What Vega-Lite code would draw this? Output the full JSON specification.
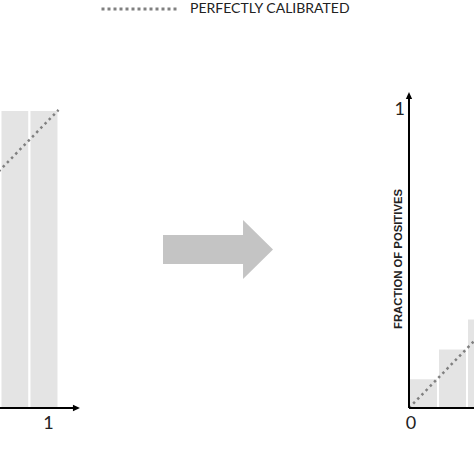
{
  "$schema": "https://vega.github.io/schema/vega-lite/v6.json",
  "width": 474,
  "height": 474,
  "padding": 0,
  "autosize": {"type": "none"},
  "background": "white",
  "config": {"view": {"stroke": null}},
  "data": {"values": [{}]},
  "datasets": {
    "leftBins": [
      {"bin_start": 0.8, "bin_end": 0.9, "fraction": 1.0},
      {"bin_start": 0.9, "bin_end": 1.0, "fraction": 1.0}
    ],
    "rightBins": [
      {"bin_start": 0.0, "bin_end": 0.1, "fraction": 0.1},
      {"bin_start": 0.1, "bin_end": 0.2, "fraction": 0.2},
      {"bin_start": 0.2, "bin_end": 0.3, "fraction": 0.3}
    ],
    "diagonal": [
      {"predicted": 0, "fraction": 0},
      {"predicted": 1, "fraction": 1}
    ]
  },
  "resolve": {"scale": {"x": "independent"}},
  "layer": [
    {
      "layer": [
        {
          "data": {"name": "leftBins"},
          "mark": {"type": "rect", "fill": "#e4e4e4", "stroke": "white", "strokeWidth": 2, "clip": true},
          "encoding": {
            "x": {"field": "bin_start", "type": "quantitative", "scale": {"domain": [0.79828, 2.43276], "nice": false, "zero": false}, "axis": null},
            "x2": {"field": "bin_end"},
            "y": {"field": "fraction", "type": "quantitative", "scale": {"domain": [-0.2215, 1.369], "nice": false, "zero": false}, "axis": null},
            "y2": {"datum": 0}
          }
        },
        {
          "data": {"name": "diagonal"},
          "mark": {"type": "line", "strokeWidth": 2.5, "strokeDash": [2.5, 3.5], "clip": true},
          "encoding": {
            "x": {"field": "predicted", "type": "quantitative", "scale": {"domain": [0.79828, 2.43276], "nice": false, "zero": false}, "axis": null},
            "y": {"field": "fraction", "type": "quantitative", "scale": {"domain": [-0.2215, 1.369], "nice": false, "zero": false}, "axis": null},
            "color": {
              "datum": "PERFECTLY CALIBRATED",
              "scale": {"range": ["#808080"]},
              "legend": {
                "orient": "none", "legendX": 100, "legendY": -30, "title": null,
                "symbolType": "stroke", "symbolSize": 5625, "symbolStrokeWidth": 3, "symbolDash": [3, 3],
                "labelFont": "Lato", "labelFontSize": 14, "labelColor": "#222222", "labelOffset": 12, "labelLimit": 400, "padding": 0
              }
            }
          }
        },
        {
          "mark": {"type": "rule", "color": "black", "strokeWidth": 2},
          "encoding": {
            "x": {"datum": 0, "type": "quantitative", "scale": {"domain": [0.79828, 2.43276], "nice": false, "zero": false}, "axis": null},
            "x2": {"datum": 1.062},
            "y": {"datum": 0, "type": "quantitative", "scale": {"domain": [-0.2215, 1.369], "nice": false, "zero": false}, "axis": null}
          }
        },
        {
          "mark": {"type": "point", "shape": "M0,0L-1,-0.45L-1,0.45Z", "filled": true, "color": "black", "opacity": 1, "size": 196, "strokeWidth": 0},
          "encoding": {
            "x": {"datum": 1.074, "type": "quantitative", "scale": {"domain": [0.79828, 2.43276], "nice": false, "zero": false}, "axis": null},
            "y": {"datum": 0, "type": "quantitative", "scale": {"domain": [-0.2215, 1.369], "nice": false, "zero": false}, "axis": null}
          }
        },
        {
          "mark": {"type": "text", "text": "1", "font": "Lato", "fontSize": 18, "color": "#222222", "dx": -10, "dy": 16, "baseline": "middle", "align": "center"},
          "encoding": {
            "x": {"datum": 1, "type": "quantitative", "scale": {"domain": [0.79828, 2.43276], "nice": false, "zero": false}, "axis": null},
            "y": {"datum": 0, "type": "quantitative", "scale": {"domain": [-0.2215, 1.369], "nice": false, "zero": false}, "axis": null}
          }
        },
        {
          "mark": {"type": "point", "shape": "M-1,-0.264L0.455,-0.264L0.455,-0.536L1,0L0.455,0.536L0.455,0.264L-1,0.264Z", "filled": true, "color": "#c4c4c4", "opacity": 1, "size": 12100, "strokeWidth": 0},
          "encoding": {
            "x": {"datum": 1.55, "type": "quantitative", "scale": {"domain": [0.79828, 2.43276], "nice": false, "zero": false}, "axis": null},
            "y": {"datum": 0.532, "type": "quantitative", "scale": {"domain": [-0.2215, 1.369], "nice": false, "zero": false}, "axis": null}
          }
        }
      ]
    },
    {
      "layer": [
        {
          "data": {"name": "rightBins"},
          "mark": {"type": "rect", "fill": "#e4e4e4", "stroke": "white", "strokeWidth": 2, "clip": true},
          "encoding": {
            "x": {"field": "bin_start", "type": "quantitative", "scale": {"domain": [-1.41034, 0.22414], "nice": false, "zero": false}, "axis": null},
            "x2": {"field": "bin_end"},
            "y": {"field": "fraction", "type": "quantitative", "scale": {"domain": [-0.2215, 1.369], "nice": false, "zero": false}, "axis": null},
            "y2": {"datum": 0}
          }
        },
        {
          "data": {"name": "diagonal"},
          "mark": {"type": "line", "strokeWidth": 2.5, "strokeDash": [2.5, 3.5], "clip": true},
          "encoding": {
            "x": {"field": "predicted", "type": "quantitative", "scale": {"domain": [-1.41034, 0.22414], "nice": false, "zero": false}, "axis": null},
            "y": {"field": "fraction", "type": "quantitative", "scale": {"domain": [-0.2215, 1.369], "nice": false, "zero": false}, "axis": null},
            "color": {"datum": "PERFECTLY CALIBRATED"}
          }
        },
        {
          "mark": {"type": "rule", "color": "black", "strokeWidth": 2},
          "encoding": {
            "x": {"datum": 0, "type": "quantitative", "scale": {"domain": [-1.41034, 0.22414], "nice": false, "zero": false}, "axis": null},
            "x2": {"datum": 0.3},
            "y": {"datum": 0, "type": "quantitative", "scale": {"domain": [-0.2215, 1.369], "nice": false, "zero": false}, "axis": null}
          }
        },
        {
          "mark": {"type": "rule", "color": "black", "strokeWidth": 2},
          "encoding": {
            "x": {"datum": 0, "type": "quantitative", "scale": {"domain": [-1.41034, 0.22414], "nice": false, "zero": false}, "axis": null},
            "y": {"datum": 0, "type": "quantitative", "scale": {"domain": [-0.2215, 1.369], "nice": false, "zero": false}, "axis": null},
            "y2": {"datum": 1.048}
          }
        },
        {
          "mark": {"type": "point", "shape": "M0,0L-0.45,1L0.45,1Z", "filled": true, "color": "black", "opacity": 1, "size": 196, "strokeWidth": 0},
          "encoding": {
            "x": {"datum": 0, "type": "quantitative", "scale": {"domain": [-1.41034, 0.22414], "nice": false, "zero": false}, "axis": null},
            "y": {"datum": 1.06, "type": "quantitative", "scale": {"domain": [-0.2215, 1.369], "nice": false, "zero": false}, "axis": null}
          }
        },
        {
          "mark": {"type": "text", "text": "0", "font": "Lato", "fontSize": 18, "color": "#222222", "dx": 2, "dy": 16, "baseline": "middle", "align": "center"},
          "encoding": {
            "x": {"datum": 0, "type": "quantitative", "scale": {"domain": [-1.41034, 0.22414], "nice": false, "zero": false}, "axis": null},
            "y": {"datum": 0, "type": "quantitative", "scale": {"domain": [-0.2215, 1.369], "nice": false, "zero": false}, "axis": null}
          }
        },
        {
          "mark": {"type": "text", "text": "1", "font": "Lato", "fontSize": 18, "color": "#222222", "dx": -4, "baseline": "middle", "align": "right"},
          "encoding": {
            "x": {"datum": 0, "type": "quantitative", "scale": {"domain": [-1.41034, 0.22414], "nice": false, "zero": false}, "axis": null},
            "y": {"datum": 1, "type": "quantitative", "scale": {"domain": [-0.2215, 1.369], "nice": false, "zero": false}, "axis": null}
          }
        },
        {
          "mark": {"type": "text", "text": "FRACTION OF POSITIVES", "font": "Liberation Sans", "fontWeight": "bold", "fontSize": 11.3, "color": "#222222", "angle": 270, "baseline": "middle", "align": "center"},
          "encoding": {
            "x": {"datum": -0.0345, "type": "quantitative", "scale": {"domain": [-1.41034, 0.22414], "nice": false, "zero": false}, "axis": null},
            "y": {"datum": 0.5, "type": "quantitative", "scale": {"domain": [-0.2215, 1.369], "nice": false, "zero": false}, "axis": null}
          }
        }
      ]
    }
  ]
}
